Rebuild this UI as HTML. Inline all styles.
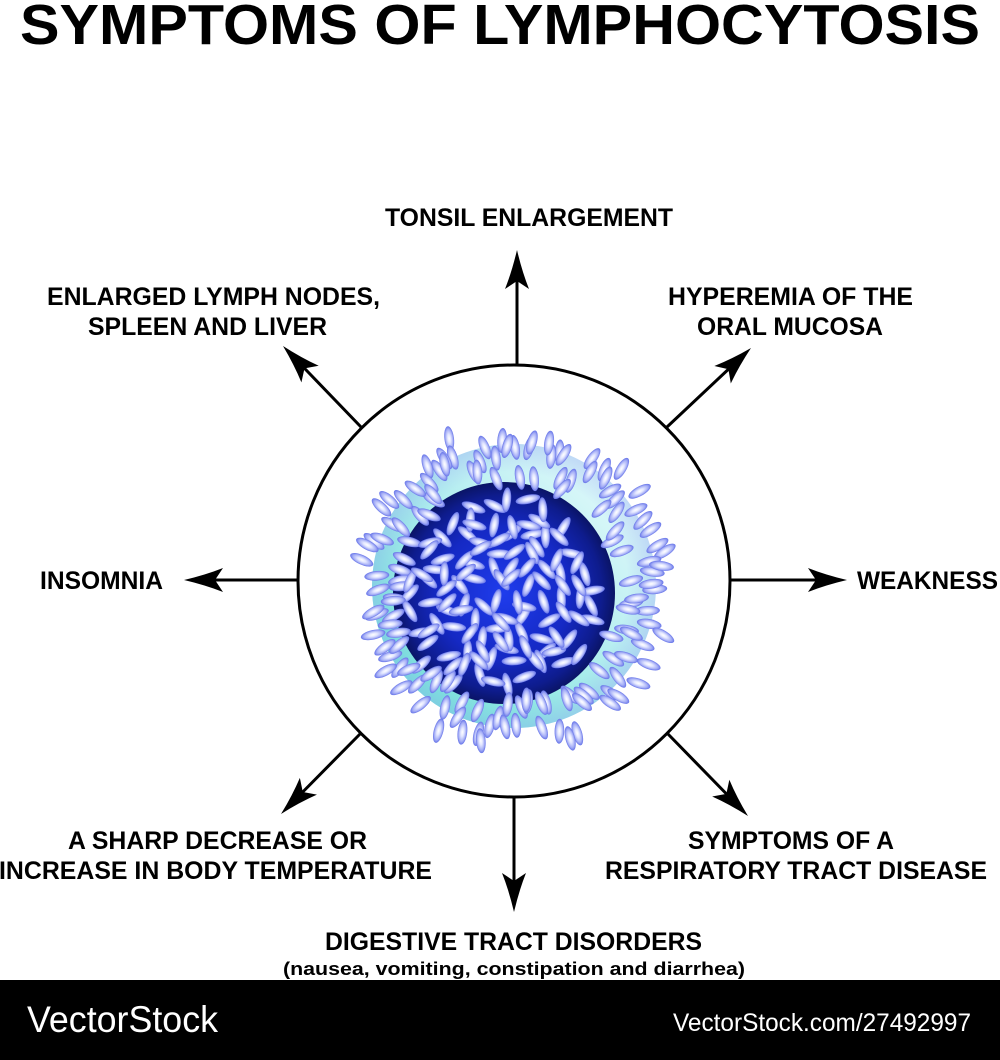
<!DOCTYPE html>
<html>
<head>
<meta charset="utf-8">
<style>
  html,body{margin:0;padding:0;background:#fff;}
  svg{display:block;}
  .lbl{font-family:"Liberation Sans",Arial,sans-serif;font-weight:bold;font-size:25px;fill:#000;}
</style>
</head>
<body>
<svg id="s" width="1000" height="1060" viewBox="0 0 1000 1060" xmlns="http://www.w3.org/2000/svg">
  <defs>
    <radialGradient id="eg" cx="0.5" cy="0.5" r="0.5">
      <stop offset="0" stop-color="#ffffff"/>
      <stop offset="0.35" stop-color="#e2e6ff"/>
      <stop offset="0.75" stop-color="#a5aef6"/>
      <stop offset="1" stop-color="#6573e8"/>
    </radialGradient>
    <linearGradient id="halo" x1="1" y1="0" x2="0" y2="1">
      <stop offset="0" stop-color="#f4feff"/>
      <stop offset="0.45" stop-color="#b5eef0"/>
      <stop offset="1" stop-color="#5fe6d0"/>
    </linearGradient>
    <radialGradient id="haloEdge" cx="0.5" cy="0.5" r="0.5">
      <stop offset="0.8" stop-color="#8aa0f0" stop-opacity="0"/>
      <stop offset="1" stop-color="#8aa0f0" stop-opacity="0.35"/>
    </radialGradient>
    <radialGradient id="nuc" cx="0.5" cy="0.5" r="0.5">
      <stop offset="0" stop-color="#1f3cec"/>
      <stop offset="0.6" stop-color="#1529c4"/>
      <stop offset="0.88" stop-color="#0e1c8e"/>
      <stop offset="1" stop-color="#0a1466"/>
    </radialGradient>
  </defs>

  <rect x="0" y="0" width="1000" height="1060" fill="#fff"/>

  <text x="20" y="44" font-family="'Liberation Sans',Arial,sans-serif" font-weight="bold" font-size="57" textLength="960" lengthAdjust="spacingAndGlyphs" fill="#000">SYMPTOMS OF LYMPHOCYTOSIS</text>

  <circle cx="514" cy="581" r="216" fill="#fff" stroke="#000" stroke-width="3"/>

  <circle cx="514" cy="586" r="142" fill="url(#halo)"/>
  <circle cx="514" cy="586" r="142" fill="url(#haloEdge)"/>
  <circle cx="504" cy="593" r="111" fill="url(#nuc)"/>
  <g id="ells"></g>

  <g id="arrows" stroke="#000" stroke-width="3" fill="#000"></g>

  <text class="lbl" x="385" y="226" textLength="288" lengthAdjust="spacingAndGlyphs">TONSIL ENLARGEMENT</text>
  <text class="lbl" x="47" y="305" textLength="333" lengthAdjust="spacingAndGlyphs">ENLARGED LYMPH NODES,</text>
  <text class="lbl" x="88" y="335" textLength="239" lengthAdjust="spacingAndGlyphs">SPLEEN AND LIVER</text>
  <text class="lbl" x="668" y="305" textLength="245" lengthAdjust="spacingAndGlyphs">HYPEREMIA OF THE</text>
  <text class="lbl" x="697" y="335" textLength="186" lengthAdjust="spacingAndGlyphs">ORAL MUCOSA</text>
  <text class="lbl" x="40" y="589" textLength="123" lengthAdjust="spacingAndGlyphs">INSOMNIA</text>
  <text class="lbl" x="857" y="589" textLength="141" lengthAdjust="spacingAndGlyphs">WEAKNESS</text>
  <text class="lbl" x="68" y="849" textLength="299" lengthAdjust="spacingAndGlyphs">A SHARP DECREASE OR</text>
  <text class="lbl" x="-1" y="879" textLength="433" lengthAdjust="spacingAndGlyphs">INCREASE IN BODY TEMPERATURE</text>
  <text class="lbl" x="688" y="849" textLength="206" lengthAdjust="spacingAndGlyphs">SYMPTOMS OF A</text>
  <text class="lbl" x="605" y="879" textLength="382" lengthAdjust="spacingAndGlyphs">RESPIRATORY TRACT DISEASE</text>
  <text class="lbl" x="325" y="950" textLength="377" lengthAdjust="spacingAndGlyphs">DIGESTIVE TRACT DISORDERS</text>
  <text class="lbl" x="283" y="975" style="font-size:18px" textLength="462" lengthAdjust="spacingAndGlyphs">(nausea, vomiting, constipation and diarrhea)</text>

  <rect x="0" y="980" width="1000" height="80" fill="#000"/>
  <text x="27" y="1032" font-family="'Liberation Sans',Arial,sans-serif" font-size="37" textLength="191" lengthAdjust="spacingAndGlyphs" fill="#fff">VectorStock</text>
  <text x="673" y="1031" font-family="'Liberation Sans',Arial,sans-serif" font-size="25" textLength="298" lengthAdjust="spacingAndGlyphs" fill="#fff">VectorStock.com/27492997</text>
</svg>
<script>
(function(){
  var NS="http://www.w3.org/2000/svg";
  var ag=document.getElementById("arrows");
  var arrows=[
    [517,365,517,250],[514,797,514,912],[298,580,184,580],[730,580,847,580],
    [361,427,283,346],[667,427,751,348],[361,733,281,814],[667,733,748,816]
  ];
  arrows.forEach(function(a){
    var sx=a[0],sy=a[1],tx=a[2],ty=a[3];
    var dx=tx-sx,dy=ty-sy,len=Math.sqrt(dx*dx+dy*dy);dx/=len;dy/=len;
    var px=-dy,py=dx,L=39,W=12,N=8;
    var line=document.createElementNS(NS,"line");
    line.setAttribute("x1",sx);line.setAttribute("y1",sy);
    line.setAttribute("x2",tx-(L-N-2)*dx);line.setAttribute("y2",ty-(L-N-2)*dy);
    ag.appendChild(line);
    var bx=tx-L*dx,by=ty-L*dy,nx=tx-(L-N)*dx,ny=ty-(L-N)*dy;
    var p=document.createElementNS(NS,"path");
    var mx1=tx-L*0.55*dx+W*0.42*px,my1=ty-L*0.55*dy+W*0.42*py;
    var mx2=tx-L*0.55*dx-W*0.42*px,my2=ty-L*0.55*dy-W*0.42*py;
    p.setAttribute("d","M"+tx+","+ty+" Q"+mx1+","+my1+" "+(bx+W*px)+","+(by+W*py)+
      " L"+nx+","+ny+" L"+(bx-W*px)+","+(by-W*py)+" Q"+mx2+","+my2+" "+tx+","+ty+"Z");
    p.setAttribute("stroke","none");
    ag.appendChild(p);
  });
  var seed=98765;
  function rnd(){seed|=0;seed=seed+0x6D2B79F5|0;var t=Math.imul(seed^seed>>>15,1|seed);t=t+Math.imul(t^t>>>7,61|t)^t;return((t^t>>>14)>>>0)/4294967296;}
  var eg=document.getElementById("ells");
  var list=[];
  var step=16;
  for(var gx=-104;gx<=104;gx+=step){
    for(var gy=-104;gy<=104;gy+=step){
      var x=gx+(rnd()-0.5)*step*0.9, y=gy+(rnd()-0.5)*step*0.9;
      if(x*x+y*y>98*98) continue;
      list.push([504+x,593+y,rnd()*180,4.5,12.5]);
    }
  }
  var N2=140;
  for(var j=0;j<N2;j++){
    var ph2=(j+rnd()*0.9)/N2*Math.PI*2, r2=110+rnd()*52;
    var ang=ph2*180/Math.PI-90+(rnd()-0.5)*40;
    list.push([512+r2*Math.cos(ph2),588+r2*Math.sin(ph2),ang,4.8,12.5]);
  }
  for(var k=list.length-1;k>0;k--){var m=Math.floor(rnd()*(k+1));var t=list[k];list[k]=list[m];list[m]=t;}
  list.forEach(function(e){
    var el=document.createElementNS(NS,"ellipse");
    el.setAttribute("cx",0);el.setAttribute("cy",0);
    el.setAttribute("rx",e[3]);el.setAttribute("ry",e[4]);
    el.setAttribute("transform","translate("+e[0].toFixed(1)+","+e[1].toFixed(1)+") rotate("+e[2].toFixed(1)+")");
    el.setAttribute("fill","url(#eg)");
    eg.appendChild(el);
  });
})();
</script>
</body>
</html>
